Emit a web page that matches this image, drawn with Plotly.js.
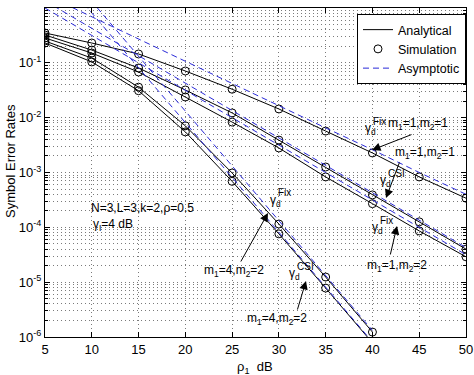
<!DOCTYPE html>
<html>
<head>
<meta charset="utf-8">
<script src="https://cdn.plot.ly/plotly-3.0.1.min.js"></script>
<style>html,body{margin:0;padding:0;background:#fff}#chart{width:474px;height:375px}</style>
</head>
<body>
<div id="chart"></div>
<script>
// ---- data ----
const snr = [5, 10, 15, 20, 25, 30, 35, 40, 45, 50];
const snrHigh = [5, 10, 15, 20, 25, 30, 35, 40];

// analytical / simulated SER
const serFix11 = [0.35, 0.23, 0.145, 0.071, 0.033, 0.0144, 0.0057, 0.00227, 0.00083, 0.00034];
const serCsi11 = [0.322, 0.171, 0.0805, 0.032, 0.0122, 0.0039, 0.00126, 0.00039, 0.000126, 0.00004];
const serFix12 = [0.284, 0.151, 0.068, 0.0238, 0.0083, 0.0028, 0.00083, 0.00027, 0.000086, 0.000029];
const serFix42 = [0.25, 0.122, 0.036, 0.0071, 0.00098, 0.000115, 0.0000124, 0.00000123];
const serCsi42 = [0.23, 0.104, 0.031, 0.0055, 0.00069, 0.000076, 0.0000078, 0.00000078];

// asymptotic SER
const asyFix11 = [1.76, 0.69, 0.272, 0.107, 0.042, 0.0166, 0.0065, 0.0026, 0.001, 0.0004];
const asyCsi11 = [1.35, 0.427, 0.135, 0.0427, 0.0135, 0.00427, 0.00135, 0.000427, 0.000135, 0.0000427];
const asyFix12 = [1.0, 0.316, 0.1, 0.0316, 0.01, 0.00316, 0.001, 0.000316, 0.0001, 0.0000316];
const asyFix42 = [13.2, 1.32, 0.132, 0.0132, 0.00132, 0.000132, 0.0000132, 0.00000132];
const asyCsi42 = [8.13, 0.813, 0.0813, 0.00813, 0.000813, 0.0000813, 0.00000813, 0.000000813];

const yTickVals = [1e-6, 1e-5, 1e-4, 1e-3, 1e-2, 1e-1, 1];
const yTickText = ['10<sup>-6</sup>', '10<sup>-5</sup>', '10<sup>-4</sup>', '10<sup>-3</sup>', '10<sup>-2</sup>', '10<sup>-1</sup>', '10<sup>0</sup>'];

// ---- build traces ----
const FONT = 'Liberation Sans, Arial, Helvetica, sans-serif';
const analytic = [[snr, serFix11], [snr, serCsi11], [snr, serFix12], [snrHigh, serFix42], [snrHigh, serCsi42]];
const asym = [[snr, asyFix11], [snr, asyCsi11], [snr, asyFix12], [snrHigh, asyFix42], [snrHigh, asyCsi42]];

const traces = [];
analytic.forEach((s, i) => traces.push({
  x: s[0], y: s[1], type: 'scatter', mode: 'lines', name: 'Analytical',
  showlegend: i === 0, line: {color: '#000', width: 1}, hoverinfo: 'skip'
}));
analytic.forEach((s, i) => traces.push({
  x: s[0], y: s[1], type: 'scatter', mode: 'markers', name: 'Simulation',
  showlegend: i === 0, marker: {symbol: 'circle-open', size: 8, color: '#000', line: {width: 1, color: '#000'}},
  hoverinfo: 'skip'
}));
asym.forEach((s, i) => traces.push({
  x: s[0], y: s[1], type: 'scatter', mode: 'lines', name: 'Asymptotic',
  showlegend: i === 0, line: {color: '#2a2ad8', width: 1, dash: '6px,4px'}, hoverinfo: 'skip'
}));

// ---- layout helpers (pixel -> paper) ----
const L = 45, R = 466, T = 8, B = 337;
const px = v => (v - L) / (R - L);
const py = v => (B - v) / (B - T);

const ann = [];
function txt(text, x, y, opts) {
  ann.push(Object.assign({xref: 'paper', yref: 'paper', x: px(x), y: py(y), text: text, showarrow: false,
    xanchor: 'center', yanchor: 'middle', font: {family: FONT, size: 12, color: '#000'}}, opts || {}));
}
function arrow(hx, hy, tx, ty) {
  ann.push({xref: 'paper', yref: 'paper', x: px(hx), y: py(hy), ax: tx - hx, ay: ty - hy, text: '',
    showarrow: true, arrowhead: 2, arrowsize: 1.7, arrowwidth: 1, arrowcolor: '#000', standoff: 0});
}

// gamma labels
function gam(x, y, sup) {
  txt('γ<sub>d</sub>', x, y + 2, {xanchor: 'left'});
  txt(sup, x + 8, y - 6, {xanchor: 'left', font: {family: FONT, size: 10, color: '#000'}});
}
gam(363, 127, 'Fix');
txt('m<sub>1</sub>=1,m<sub>2</sub>=1', 418, 124);
arrow(372, 150, 413, 134);

gam(378, 179, 'CSI');
txt('m<sub>1</sub>=1,m<sub>2</sub>=1', 425, 153);
arrow(386, 198, 400, 161);

gam(370, 226, 'Fix');
txt('m<sub>1</sub>=1,m<sub>2</sub>=2', 397, 266);
arrow(397, 226, 390, 256);

gam(268, 199, 'Fix');
txt('m<sub>1</sub>=4,m<sub>2</sub>=2', 234, 271);
arrow(268, 213, 240, 263);

gam(287, 272, 'CSI');
txt('m<sub>1</sub>=4,m<sub>2</sub>=2', 277, 319);
arrow(306, 281, 297, 311);

txt('N=3,L=3,k=2,ρ=0.5', 89, 208, {xanchor: 'left'});
txt('γ<sub>I</sub>=4 dB', 91, 225, {xanchor: 'left'});

// axis titles
txt('ρ<sub>1</sub>  dB', 255, 367, {font: {family: FONT, size: 13, color: '#000'}});
txt('Symbol Error Rates', 10, 161, {textangle: -90, font: {family: FONT, size: 13, color: '#000'}});

// minor log positions
const minorVals = [];
for (let e = -6; e < 0; e++) for (let m = 2; m <= 9; m++) minorVals.push(m * Math.pow(10, e));

const gridStyle = {gridcolor: '#7a7a7a', griddash: '1px,3px', gridwidth: 1};

const layout = {
  width: 474, height: 375,
  margin: {l: L, r: 474 - R, t: T, b: 375 - B, pad: 0},
  paper_bgcolor: '#fff', plot_bgcolor: '#fff',
  font: {family: FONT, size: 13, color: '#000'},
  showlegend: true,
  legend: {x: 1, xanchor: 'right', y: py(14), yanchor: 'top', bgcolor: '#fff', bordercolor: '#000', borderwidth: 1,
    font: {family: FONT, size: 12.5, color: '#000'}, tracegroupgap: 0, itemwidth: 30},
  xaxis: Object.assign({
    range: [5, 50], tickmode: 'array', tickvals: snr, ticks: 'inside', ticklen: 5, tickcolor: '#000',
    showline: true, linecolor: '#000', linewidth: 1, mirror: 'ticks', zeroline: false, showgrid: true,
    tickfont: {family: FONT, size: 13, color: '#000'}
  }, gridStyle),
  yaxis: Object.assign({
    type: 'log', range: [-6, 0], tickmode: 'array', tickvals: yTickVals, ticktext: yTickText,
    ticks: 'inside', ticklen: 5, tickcolor: '#000', showline: true, linecolor: '#000', linewidth: 1,
    mirror: 'ticks', zeroline: false, showgrid: true, tickfont: {family: FONT, size: 13, color: '#000'},
    minor: Object.assign({tickmode: 'array', tickvals: minorVals, ticks: 'inside', ticklen: 3, tickcolor: '#000', showgrid: true}, gridStyle)
  }, gridStyle),
  annotations: ann
};

Plotly.newPlot('chart', traces, layout, {staticPlot: true, displayModeBar: false});
</script>
</body>
</html>
